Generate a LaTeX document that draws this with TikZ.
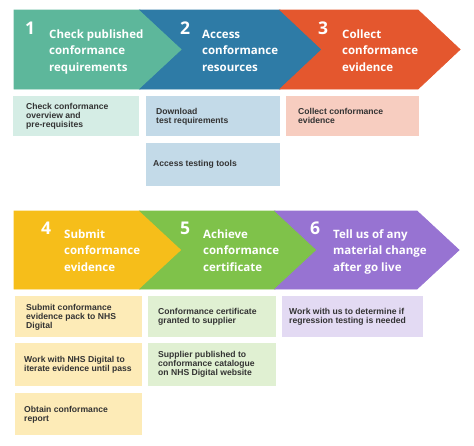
\documentclass[tikz,border=0pt]{standalone}
\usepackage{fontspec}
\setmainfont{Liberation Sans}
\newfontfamily\headfont{Open Sans}
\definecolor{stepteal}{HTML}{5DB79B}
\definecolor{stepblue}{HTML}{2E7BA6}
\definecolor{steporange}{HTML}{E4572E}
\definecolor{stepyellow}{HTML}{F6BE1A}
\definecolor{stepgreen}{HTML}{7FC24A}
\definecolor{steppurple}{HTML}{9773D2}
\definecolor{lteal}{HTML}{D5EDE5}
\definecolor{lblue}{HTML}{C3DAE8}
\definecolor{lorange}{HTML}{F7CDC0}
\definecolor{lyellow}{HTML}{FDEBB7}
\definecolor{lgreen}{HTML}{E0F0D2}
\definecolor{lpurple}{HTML}{E3DAF3}
\definecolor{itemtext}{HTML}{333333}
\begin{document}
\begin{tikzpicture}[x=1pt, y=-1pt,
  chev/.style={draw=white, line width=0.8pt, line join=miter},
  num/.style={font=\headfont\fontsize{17.5}{18}\selectfont\bfseries, text=white, inner sep=0pt, anchor=base},
  head/.style={font=\headfont\fontsize{11.5}{16.7}\selectfont\bfseries, text=white, inner sep=0pt, align=left, anchor=base west},
  item/.style={font=\fontsize{8.6}{9}\selectfont\bfseries, text=itemtext, inner sep=0pt, align=left, anchor=west}]
\useasboundingbox (0,0) rectangle (474,445);
% Row 1: chevrons
\fill[chev, stepteal] (14,10) -- (140,10) -- (182.5,49.5) -- (140,89) -- (14,89) -- cycle;
\fill[chev, stepblue] (140,10) -- (280,10) -- (322,49.5) -- (280,89) -- (140,89) -- (182.5,49.5) -- cycle;
\fill[chev, steporange] (280,10) -- (418,10) -- (460,49.5) -- (418,89) -- (280,89) -- (322,49.5) -- cycle;
\node[num] (n1) at (30,34) {1};
\node[num] (n2) at (185,34) {2};
\node[num] (n3) at (323,34) {3};
% base of a multi-line node = its last line
\node[head] (h1) at (49,71.4) {Check published\\conformance\\requirements};
\node[head] (h2) at (202,71.4) {Access\\conformance\\resources};
\node[head] (h3) at (342,71.4) {Collect\\conformance\\evidence};
% Row 1: tasks
\fill[lteal] (13,96) rectangle (139,136);
\node[item] (t1a) at (26,116.5) {Check conformance\\overview and\\pre-requisites};
\fill[lblue] (146,96) rectangle (280,136);
\node[item] (t2a) at (156,116.5) {Download\\test requirements};
\fill[lblue] (146,143) rectangle (280,186);
\node[item] (t2b) at (153,164.5) {Access testing tools};
\fill[lorange] (286,96) rectangle (419,136);
\node[item] (t3a) at (298,116) {Collect conformance\\evidence};
% Row 2: chevrons
\fill[chev, stepyellow] (14,211) -- (140,211) -- (182,250) -- (140,289) -- (14,289) -- cycle;
\fill[chev, stepgreen] (140,211) -- (275,211) -- (317,250) -- (275,289) -- (140,289) -- (182,250) -- cycle;
\fill[chev, steppurple] (275,211) -- (417,211) -- (459,250) -- (417,289) -- (275,289) -- (317,250) -- cycle;
\node[num] (n4) at (46,234) {4};
\node[num] (n5) at (185,234) {5};
\node[num] (n6) at (315,234) {6};
\node[head] (h4) at (64,271.4) {Submit\\conformance\\evidence};
\node[head] (h5) at (203,271.4) {Achieve\\conformance\\certificate};
\node[head] (h6) at (333,271.4) {Tell us of any\\material change\\after go live};
% Row 2: tasks
\fill[lyellow] (15,296) rectangle (142,337);
\node[item] (t4a) at (26,317) {Submit conformance\\evidence pack to NHS\\Digital};
\fill[lyellow] (15,343) rectangle (142,386);
\node[item] (t4b) at (24,365) {Work with NHS Digital to\\iterate evidence until pass};
\fill[lyellow] (15,393) rectangle (142,435);
\node[item] (t4c) at (24,414.5) {Obtain conformance\\report};
\fill[lgreen] (148,296) rectangle (276,337);
\node[item] (t5a) at (158,317) {Conformance certificate\\granted to supplier};
\fill[lgreen] (148,343) rectangle (276,386);
\node[item] (t5b) at (158,364.5) {Supplier published to\\conformance catalogue\\on NHS Digital website};
\fill[lpurple] (282,296) rectangle (423,337);
\node[item] (t6a) at (289,317) {Work with us to determine if\\regression testing is needed};
\end{tikzpicture}
\end{document}
